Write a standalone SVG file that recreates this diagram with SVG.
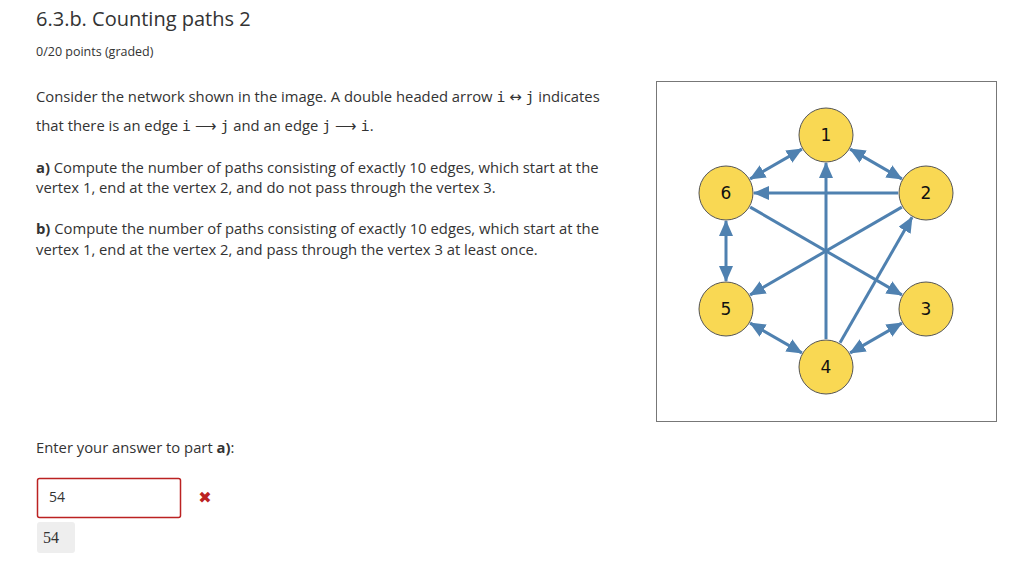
<svg xmlns="http://www.w3.org/2000/svg" width="1024" height="565" viewBox="0 0 1024 565">
<style>
.t{font-family:"Open Sans","Noto Sans",sans-serif;fill:#333}
.m{font-family:"DejaVu Sans Mono","Liberation Mono",monospace;fill:#333}
.ar{font-family:"DejaVu Sans",sans-serif}
.e{stroke:#4f81b0;stroke-width:3;fill:none}
.n circle{fill:#f9d853;stroke:#555;stroke-width:1}
.n text{font-family:"DejaVu Sans",sans-serif;font-size:17px;text-anchor:middle;fill:#111}
</style>
<defs>
<marker id="a" markerUnits="userSpaceOnUse" markerWidth="16" markerHeight="14" refX="15" refY="7" orient="auto-start-reverse" viewBox="0 0 16 14"><path d="M0,0L16,7L0,14z" fill="#4f81b0"/></marker>
</defs>
<rect width="1024" height="565" fill="#fff"/>
<text class="t" x="36" y="26" font-size="20">6.3.b. Counting paths 2</text>
<text class="t" x="36" y="56" font-size="12.5" fill="#555">0/20 points (graded)</text>
<text class="t" x="36" y="102" font-size="14.8">Consider the network shown in the image. A double headed arrow <tspan class="m">i</tspan> <tspan class="ar">↔</tspan> <tspan class="m">j</tspan> indicates</text>
<text class="t" x="36" y="131" font-size="14.8">that there is an edge <tspan class="m">i</tspan> ⟶ <tspan class="m">j</tspan> and an edge <tspan class="m">j</tspan> ⟶ <tspan class="m">i</tspan>.</text>
<text class="t" x="36" y="173" font-size="14.8"><tspan font-weight="bold">a)</tspan> Compute the number of paths consisting of exactly 10 edges, which start at the</text>
<text class="t" x="36" y="193" font-size="14.8">vertex 1, end at the vertex 2, and do not pass through the vertex 3.</text>
<text class="t" x="36" y="234" font-size="14.8"><tspan font-weight="bold">b)</tspan> Compute the number of paths consisting of exactly 10 edges, which start at the</text>
<text class="t" x="36" y="255" font-size="14.8">vertex 1, end at the vertex 2, and pass through the vertex 3 at least once.</text>
<text class="t" x="36" y="453" font-size="14.8">Enter your answer to part <tspan font-weight="bold">a)</tspan>:</text>
<rect x="37.5" y="478.5" width="143" height="39" rx="2" fill="#fff" stroke="#b22" stroke-width="1.5"/>
<text class="t" x="49" y="502" font-size="14">54</text>
<text x="205" y="503" font-size="16" font-family="DejaVu Sans,sans-serif" fill="#b22" text-anchor="middle" font-weight="bold">✖</text>
<rect x="37" y="522" width="38" height="31" rx="3" fill="#eee"/>
<text x="43" y="543" font-size="16" font-family="Liberation Serif,serif" fill="#333">54</text>
<rect x="656.5" y="81.5" width="340" height="340" fill="#fff" stroke="#777"/>
<g id="edges">
<line class="e" x1="801.8" y1="149.1" x2="750.2" y2="178.9" marker-start="url(#a)" marker-end="url(#a)"/>
<line class="e" x1="850.2" y1="149.1" x2="901.8" y2="178.9" marker-start="url(#a)" marker-end="url(#a)"/>
<line class="e" x1="898" y1="193" x2="754" y2="193" marker-end="url(#a)"/>
<line class="e" x1="826" y1="339" x2="826" y2="163" marker-end="url(#a)"/>
<line class="e" x1="901.8" y1="207.1" x2="750.2" y2="294.9" marker-end="url(#a)"/>
<line class="e" x1="750.2" y1="207.1" x2="901.8" y2="294.9" marker-end="url(#a)"/>
<line class="e" x1="726" y1="221" x2="726" y2="281" marker-start="url(#a)" marker-end="url(#a)"/>
<line class="e" x1="750.2" y1="323.1" x2="801.8" y2="352.9" marker-start="url(#a)" marker-end="url(#a)"/>
<line class="e" x1="850.2" y1="352.9" x2="901.8" y2="323.1" marker-start="url(#a)" marker-end="url(#a)"/>
<line class="e" x1="840" y1="342.7" x2="912" y2="217.3" marker-end="url(#a)"/>
</g>
<g id="n1" class="n"><circle cx="826" cy="135" r="27"/><text x="826" y="141">1</text></g>
<g id="n2" class="n"><circle cx="926" cy="193" r="27"/><text x="926" y="199">2</text></g>
<g id="n3" class="n"><circle cx="926" cy="309" r="27"/><text x="926" y="315">3</text></g>
<g id="n4" class="n"><circle cx="826" cy="367" r="27"/><text x="826" y="373">4</text></g>
<g id="n5" class="n"><circle cx="726" cy="309" r="27"/><text x="726" y="315">5</text></g>
<g id="n6" class="n"><circle cx="726" cy="193" r="27"/><text x="726" y="199">6</text></g>
</svg>
